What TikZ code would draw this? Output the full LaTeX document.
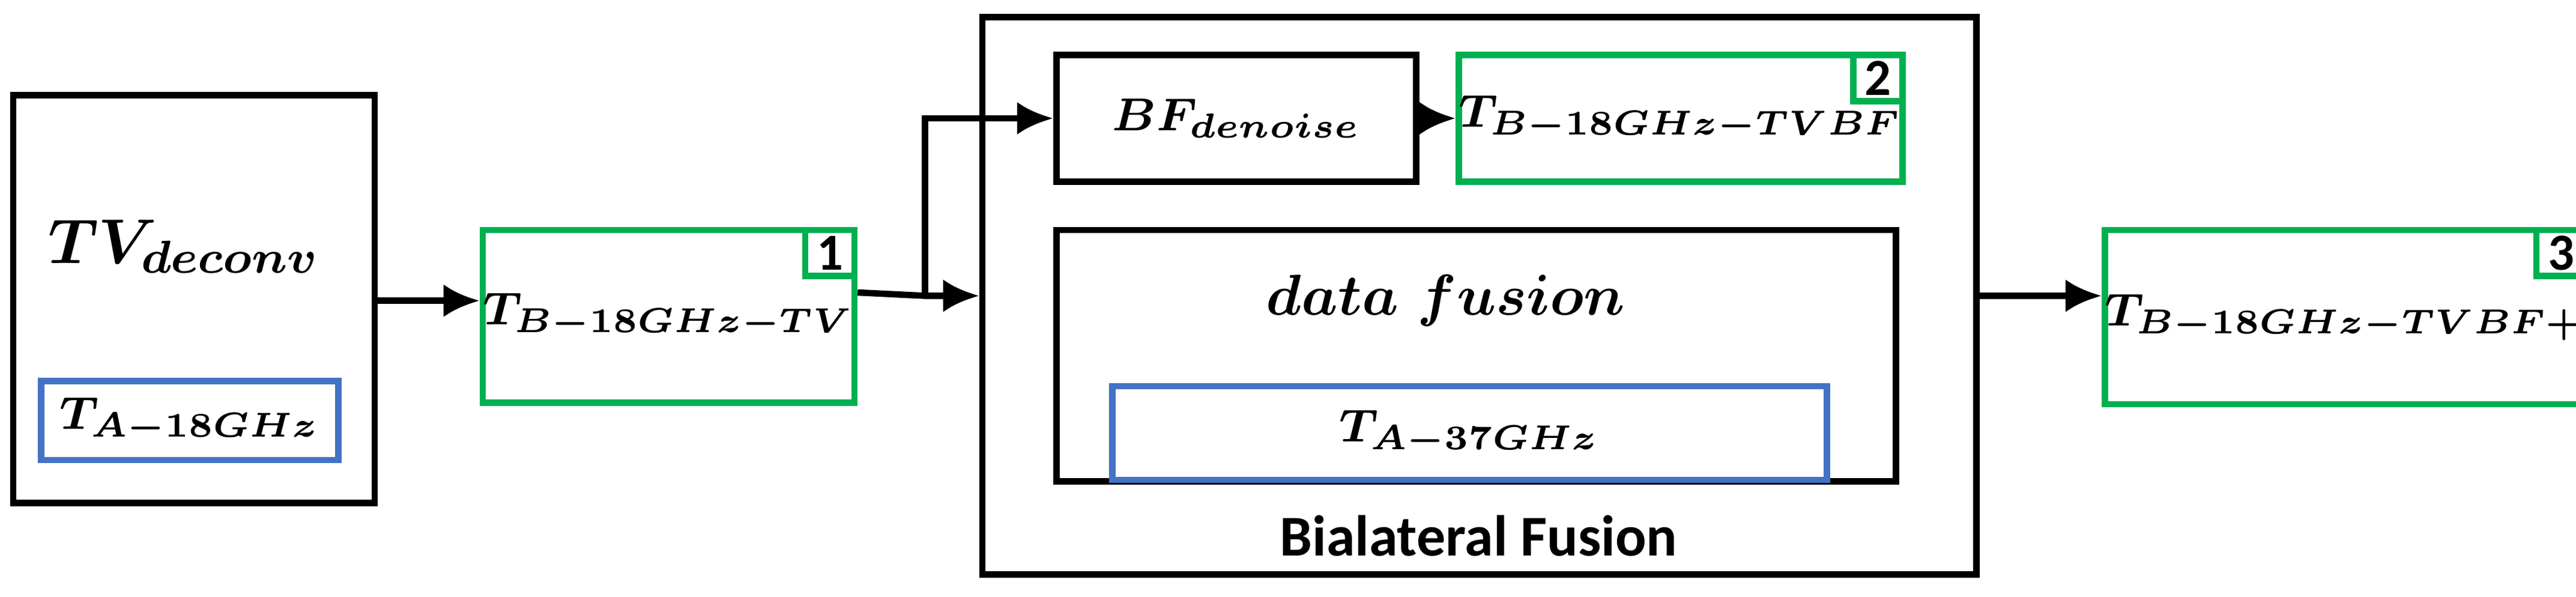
\documentclass[tikz,border=0pt]{standalone}
\usepackage{amsmath,bm}
\usepackage{fontspec}
\newfontfamily\carl{Carlito}
\usetikzlibrary{arrows.meta}
\definecolor{boxgreen}{RGB}{0,176,80}
\definecolor{boxblue}{RGB}{68,114,196}
\tikzset{
  blk/.style={draw=black, line width=1.1pt, minimum width=#1, inner sep=0pt, font=\fontsize{8}{10}\selectfont\boldmath},
  grn/.style={blk=#1, draw=boxgreen},
  blu/.style={blk=#1, draw=boxblue},
  tag/.style={draw=boxgreen, line width=1.1pt, minimum width=0.3cm, minimum height=0.28cm, inner sep=0pt, font=\carl\bfseries\fontsize{9}{10}\selectfont},
  flow/.style={line width=1.1pt, -{Latex[length=2.2mm,width=2mm]}}
}
\begin{document}
\begin{tikzpicture}
  \useasboundingbox (0,0) rectangle (15.68,3.63);

  % left block
  \node[blk=2.2cm, minimum height=2.48cm] (tvbox) at (1.18,1.81) {};
  \node[font=\fontsize{11}{13}\selectfont\boldmath] (tvlab) at (1.12,2.13) {$\bm{TV_{deconv}}$};
  \node[blu=1.81cm, minimum height=0.48cm] (ta18) at (1.155,1.07) {$\bm{T_{A-18GHz}}$};

  % first output
  \node[grn=2.2cm, minimum height=1.05cm] (out1) at (4.07,1.705) {$\bm{T_{B-18GHz-TV}}$};
  \node[tag, anchor=north east] (tag1) at (out1.north east) {1};

  % bilateral fusion block
  \node[blk=6.05cm, minimum height=3.39cm] (bfbox) at (9.005,1.83) {};
  \node[font=\carl\bfseries\fontsize{10}{12}\selectfont] (bflab) at (9.0,0.37) {Bialateral Fusion};
  \node[blk=2.19cm, minimum height=0.77cm] (denoise) at (7.525,2.91) {$\bm{BF_{denoise}}$};
  \node[grn=2.6cm, minimum height=0.77cm] (out2) at (10.23,2.91) {$\bm{T_{B-18GHz-TVBF}}$};
  \node[tag, anchor=north east] (tag2) at (out2.north east) {2};
  \node[blk=5.11cm, minimum height=1.53cm] (fusion) at (8.985,1.465) {};
  \node[font=\fontsize{10}{12}\selectfont\boldmath] (fuslab) at (8.8,1.8) {$\bm{data\ fusion}$};
  \node[blu=4.35cm, minimum height=0.57cm] (ta37) at (8.945,0.995) {$\bm{T_{A-37GHz}}$};

  % final output
  \node[grn=2.61cm, minimum height=1.06cm] (out3) at (14.275,1.70) {$\bm{T_{B-18GHz-TVBF+}}$};
  \node[tag, anchor=north east] (tag3) at (out3.north east) {3};

  % connectors
  \coordinate (split) at (5.63,1.83);
  \draw[flow] (tvbox.east |- 0,1.80) -- (out1.west |- 0,1.80);
  \draw[line width=1.1pt] (out1.east |- 0,1.85) -- (split);
  \draw[flow] (split) -- (bfbox.west |- split);
  \draw[flow] (split) |- (denoise.west);
  \draw[flow] (denoise) -- (out2);
  \draw[flow] (bfbox.east |- 0,1.83) -- (out3.west |- 0,1.83);
\end{tikzpicture}
\end{document}
